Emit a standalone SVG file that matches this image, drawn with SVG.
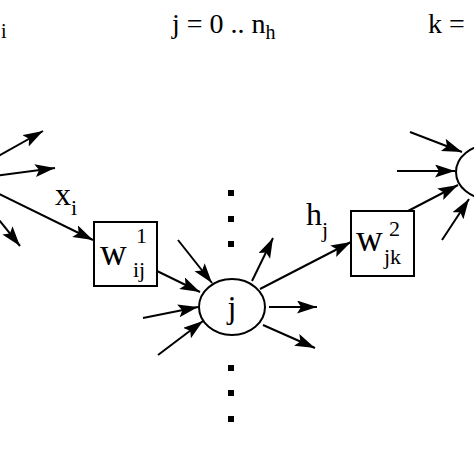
<svg xmlns="http://www.w3.org/2000/svg" width="474" height="474" viewBox="0 0 474 474">
<style>
  text { font-family: "Liberation Serif", "Times New Roman", serif; fill: #000; }
  .big { font-size: 28px; }
  .lbl { font-size: 32px; }
  .w { font-size: 37px; }
  .small { font-size: 20px; }
  .sub { font-size: 22px; }
  .edge { stroke: #000; stroke-width: 2; fill: none; marker-end: url(#ah); }
  .node { fill: #fff; stroke: #000; stroke-width: 2; }
  .dot { fill: #000; }
</style>
<defs>
  <marker id="ah" markerUnits="userSpaceOnUse" markerWidth="21" markerHeight="14" refX="20" refY="6.5" orient="auto">
    <path d="M0,0 L20,6.5 L0,13 L4,6.5 z" fill="#000"/>
  </marker>
</defs>
<rect width="474" height="474" fill="#fff"/>

<g id="labels-top">
  <text class="small" x="1" y="38">i</text>
  <text class="big" x="172" y="33">j = 0 .. n<tspan class="small" dy="6">h</tspan></text>
  <text class="big" x="428" y="33">k =</text>
</g>

<g id="connectors">
  <line class="edge" x1="-5" y1="158" x2="43" y2="131"/>
  <line class="edge" x1="-5" y1="176" x2="55" y2="168"/>
  <line class="edge" x1="-5" y1="192" x2="93" y2="240"/>
  <line class="edge" x1="-5" y1="215" x2="20" y2="246"/>
  <line class="edge" x1="157" y1="271" x2="200" y2="292"/>
  <line class="edge" x1="178" y1="240" x2="212" y2="283"/>
  <line class="edge" x1="143" y1="318" x2="198" y2="307"/>
  <line class="edge" x1="158" y1="355" x2="203" y2="321"/>
  <line class="edge" x1="252" y1="281" x2="273" y2="238"/>
  <line class="edge" x1="260" y1="289" x2="351" y2="242"/>
  <line class="edge" x1="269" y1="307" x2="317" y2="307"/>
  <line class="edge" x1="263" y1="325" x2="315" y2="348"/>
  <line class="edge" x1="408" y1="211" x2="458" y2="185"/>
  <line class="edge" x1="397" y1="171" x2="455" y2="171"/>
  <line class="edge" x1="410" y1="132" x2="462" y2="152"/>
  <line class="edge" x1="442" y1="240" x2="469" y2="199"/>
</g>

<g id="edge-labels">
  <text class="lbl" x="55" y="205">x<tspan class="sub" dy="10">i</tspan></text>
  <text class="lbl" x="306" y="225">h<tspan class="sub" dy="12">j</tspan></text>
</g>

<g id="weight1">
  <rect class="node" x="94" y="222" width="63" height="64"/>
  <text class="w" x="100" y="265">w</text>
  <text class="sub" x="136" y="243">1</text>
  <text class="sub" x="133" y="277">ij</text>
</g>

<g id="weight2">
  <rect class="node" x="351" y="211" width="63" height="65"/>
  <text class="w" x="356" y="251">w</text>
  <text class="sub" x="389" y="236">2</text>
  <text class="sub" x="384" y="264">jk</text>
</g>

<g id="node-j">
  <ellipse class="node" cx="232" cy="307" rx="33" ry="28"/>
  <text class="lbl" x="232" y="318" text-anchor="middle">j</text>
</g>

<g id="node-k">
  <ellipse class="node" cx="489" cy="172" rx="33" ry="27"/>
</g>

<g id="dots">
  <rect class="dot" x="228" y="190" width="6" height="6"/>
  <rect class="dot" x="228" y="216" width="6" height="6"/>
  <rect class="dot" x="228" y="241" width="6" height="6"/>
  <rect class="dot" x="228" y="365" width="6" height="6"/>
  <rect class="dot" x="228" y="390" width="6" height="6"/>
  <rect class="dot" x="228" y="416" width="6" height="6"/>
</g>
</svg>
